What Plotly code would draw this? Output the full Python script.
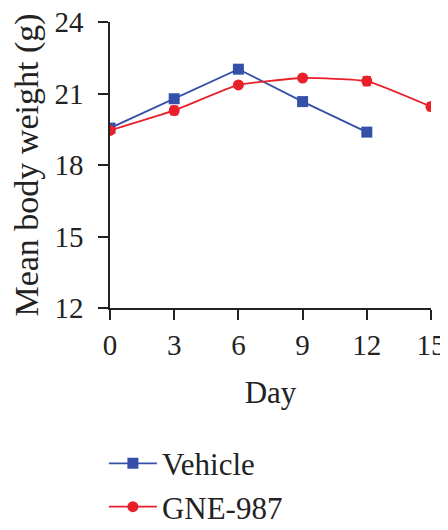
import plotly.graph_objects as go

# data
days_vehicle = [0, 3, 6, 9, 12]
weight_vehicle = [19.55, 20.78, 22.02, 20.66, 19.38]
err_vehicle = [0.08, 0.1, 0.08, 0.08, 0.08]

days_gne = [0, 3, 6, 9, 12, 15]
weight_gne = [19.45, 20.29, 21.36, 21.65, 21.52, 20.45]
err_gne = [0.12, 0.18, 0.1, 0.08, 0.18, 0.16]

x_ticks = [0, 3, 6, 9, 12, 15]
y_ticks = [12, 15, 18, 21, 24]

blue = '#3550a8'
red = '#e8202a'
font_name = 'Liberation Serif'

fig = go.Figure()

fig.add_trace(go.Scatter(x=days_vehicle, y=weight_vehicle, name='Vehicle',
                         mode='lines+markers',
                         line=dict(color=blue, width=1.8),
                         marker=dict(symbol='square', size=11, color=blue),
                         error_y=dict(type='data', array=err_vehicle,
                                      color=blue, thickness=1.5, width=4)))

fig.add_trace(go.Scatter(x=days_gne, y=weight_gne, name='GNE-987',
                         mode='lines+markers',
                         line=dict(color=red, width=1.8, shape='spline', smoothing=0.4),
                         marker=dict(symbol='circle', size=11, color=red),
                         error_y=dict(type='data', array=err_gne,
                                      color=red, thickness=1.5, width=4)))

# the page puts the figure ~8px in from the top-left corner, so the figure is
# drawn a bit smaller to keep it inside the window
fig.update_layout(
    width=440, height=521,
    margin=dict(l=102, r=17, t=14, b=221, autoexpand=False),
    paper_bgcolor='white', plot_bgcolor='white',
    font=dict(family=font_name, size=29, color='#222222'),
    showlegend=True,
    legend=dict(x=-0.019, y=-0.45, xanchor='left', yanchor='top',
                font=dict(family=font_name, size=31, color='#222222'),
                bgcolor='rgba(0,0,0,0)', tracegroupgap=0, itemwidth=48),
)

fig.update_xaxes(range=[0, 15], tickvals=x_ticks, showgrid=False, zeroline=False,
                 showline=True, linecolor='#222222', linewidth=1.5,
                 ticks='outside', ticklen=10, tickwidth=1.5, tickcolor='#222222',
                 tickfont=dict(size=29), ticklabeloverflow='allow',
                 title=dict(text='Day', font=dict(size=31), standoff=22))

fig.update_yaxes(range=[12, 24], tickvals=y_ticks, showgrid=False, zeroline=False,
                 showline=True, linecolor='#222222', linewidth=1.5,
                 ticks='outside', ticklen=10, tickwidth=1.5, tickcolor='#222222',
                 tickfont=dict(size=29), ticklabelstandoff=9,
                 ticklabeloverflow='allow',
                 title=dict(text='Mean body weight (g)', font=dict(size=34), standoff=23))

fig.write_html("out.html")
